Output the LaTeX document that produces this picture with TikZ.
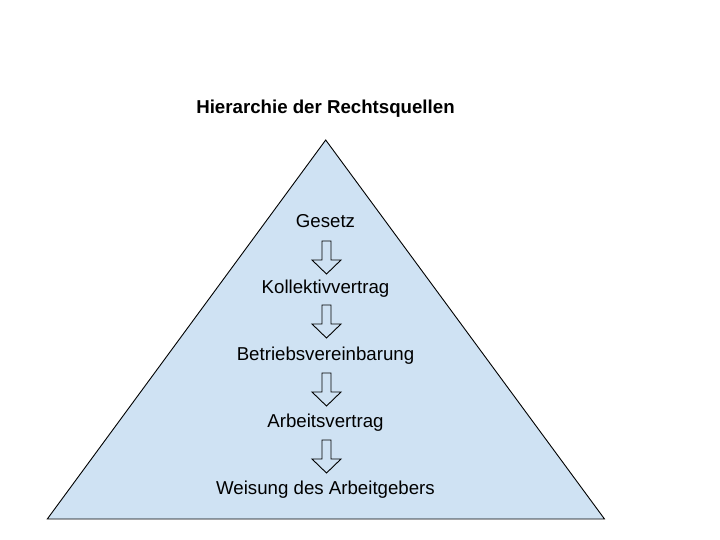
\documentclass[tikz,border=0pt]{standalone}
\usepackage{fontspec}
\setmainfont{Liberation Sans}
\definecolor{triblue}{HTML}{CFE2F3}
\tikzset{
  lbl/.style={anchor=base, inner sep=0pt, font=\fontsize{18.67}{22}\selectfont},
  ttl/.style={anchor=base, inner sep=0pt, font=\fontsize{18.67}{22}\selectfont\bfseries},
  downarrow/.pic={\draw[line width=0.9pt, line join=miter, fill=triblue]
     (-4.5,0) -- (4.5,0) -- (4.5,19) -- (14.5,19) -- (0,33) -- (-14.5,19) -- (-4.5,19) -- cycle;}
}
\begin{document}
\begin{tikzpicture}[x=1pt,y=-1pt]
\useasboundingbox (0,0) rectangle (720,540);
\coordinate (apex) at (325.7,140);
\coordinate (bl) at (47.3,519);
\coordinate (br) at (604.5,519);
\draw[line width=0.9pt, fill=triblue, line join=miter] (apex) -- (br) -- (bl) -- cycle;
\node[ttl] (title) at (325.5,114) {Hierarchie der Rechtsquellen};
\node[lbl] (t1) at (325.5,227) {Gesetz};
\node[lbl] (t2) at (325.5,293.5) {Kollektivvertrag};
\node[lbl] (t3) at (325.5,360.5) {Betriebsvereinbarung};
\node[lbl] (t4) at (325.5,427.3) {Arbeitsvertrag};
\node[lbl] (t5) at (325.5,494.3) {Weisung des Arbeitgebers};
\pic at (326.5,241) {downarrow};
\pic at (326.5,305) {downarrow};
\pic at (326.5,373) {downarrow};
\pic at (326.5,440) {downarrow};
\end{tikzpicture}
\end{document}
